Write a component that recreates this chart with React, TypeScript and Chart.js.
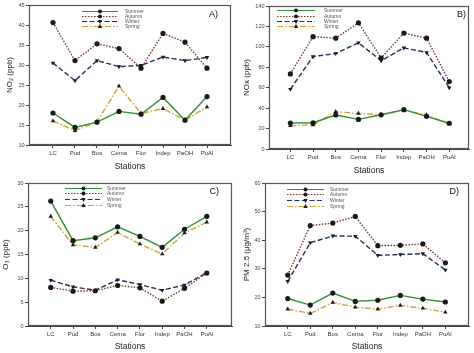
import React, { useEffect, useRef } from "react";
import { Chart, registerables } from "chart.js";
Chart.register(...registerables);

const stations = ["LC", "Pud", "Bos", "Cerna", "Flor", "Indep", "PaOH", "PuAl"];
const seasons = ["Summer", "Autumn", "Winter", "Spring"];

const no2Summer = [18.0, 14.4, 15.7, 18.4, 17.7, 21.9, 16.2, 22.1];
const no2Autumn = [40.6, 31.1, 35.3, 34.1, 29.2, 37.9, 35.7, 29.2];
const no2Winter = [30.5, 26.1, 31.1, 29.6, 29.9, 32.0, 31.1, 31.9];
const no2Spring = [16.0, 13.6, 15.8, 24.7, 17.9, 19.1, 16.2, 19.5];

const noxSummer = [25.4, 25.7, 33.3, 29.0, 33.5, 38.5, 32.0, 25.2];
const noxAutumn = [73.5, 110.0, 108.5, 123.5, 89.0, 113.5, 108.5, 66.0];
const noxWinter = [58.5, 90.5, 93.5, 104.0, 86.5, 99.0, 94.5, 60.0];
const noxSpring = [22.8, 23.5, 36.5, 34.8, 33.5, 38.0, 33.5, 24.5];

const o3Summer = [26.2, 17.9, 18.5, 20.8, 18.8, 16.5, 20.3, 23.0];
const o3Autumn = [8.1, 7.3, 7.4, 8.5, 8.0, 5.2, 7.9, 11.1];
const o3Winter = [9.6, 8.2, 7.5, 9.7, 8.7, 7.5, 8.6, 11.2];
const o3Spring = [23.0, 17.0, 16.5, 19.6, 17.2, 15.1, 19.5, 21.8];

const pmSummer = [19.6, 17.3, 21.5, 18.6, 19.0, 20.7, 19.4, 18.4];
const pmAutumn = [27.8, 45.1, 46.0, 48.3, 38.1, 38.2, 38.7, 32.1];
const pmWinter = [25.6, 39.1, 41.5, 41.4, 34.7, 35.0, 35.3, 29.6];
const pmSpring = [15.9, 14.4, 18.2, 16.6, 15.9, 17.2, 16.2, 14.8];

const FONT = "'Liberation Sans', Arial, Helvetica, sans-serif";

const seasonStyles = [
  { color: "#2f8f35", dash: [] as number[], point: "circle", rot: 0 },
  { color: "#7a3434", dash: [1.5, 1.5], point: "circle", rot: 0 },
  { color: "#2a2c62", dash: [5, 2.5], point: "triangle", rot: 180 },
  { color: "#cfa43c", dash: [6, 2, 1.5, 2], point: "triangle", rot: 0 },
];

type Panel = {
  left: number; top: number; w: number; h: number;
  area: { left: number; right: number; top: number; bottom: number };
  xMin: number; xMax: number;
  yMin: number; yMax: number; yStep: number;
  yTitle: string; label: string; labelX: number; labelY: number;
  yTitlePad: number; xTitlePad: number;
  legend: { x0: number; x1: number; tx: number; rows: number[] };
  series: number[][];
};

const panels: Panel[] = [
  {
    left: 0, top: 0, w: 237, h: 176,
    area: { left: 29, right: 231, top: 5, bottom: 145 },
    xMin: -1.09, xMax: 8.09, yMin: 10, yMax: 45, yStep: 5,
    yTitle: "NO\u2082 (ppb)", label: "A)", labelX: 218, labelY: 15,
    yTitlePad: 5, xTitlePad: 4.5,
    legend: { x0: 53, x1: 89, tx: 96, rows: [6, 11, 16, 21] },
    series: [no2Summer, no2Autumn, no2Winter, no2Spring],
  },
  {
    left: 237, top: 0, w: 237, h: 176,
    area: { left: 32, right: 232, top: 6, bottom: 149 },
    xMin: -0.94, xMax: 7.87, yMin: 0, yMax: 140, yStep: 20,
    yTitle: "NOx (ppb)", label: "B)", labelX: 229, labelY: 15,
    yTitlePad: 5, xTitlePad: 0.3,
    legend: { x0: 8, x1: 46, tx: 55, rows: [4, 10, 15, 20] },
    series: [noxSummer, noxAutumn, noxWinter, noxSpring],
  },
  {
    left: 0, top: 176, w: 237, h: 177,
    area: { left: 28, right: 232, top: 7, bottom: 150 },
    xMin: -1.02, xMax: 8.13, yMin: 0, yMax: 30, yStep: 5,
    yTitle: "O\u2083 (ppb)", label: "C)", labelX: 219, labelY: 16,
    yTitlePad: 1.2, xTitlePad: 1.2,
    legend: { x0: 37, x1: 74, tx: 79, rows: [5, 10, 16, 22] },
    series: [o3Summer, o3Autumn, o3Winter, o3Spring],
  },
  {
    left: 237, top: 176, w: 237, h: 177,
    area: { left: 28, right: 232, top: 7, bottom: 150 },
    xMin: -1.01, xMax: 8.05, yMin: 10, yMax: 60, yStep: 10,
    yTitle: "PM 2.5 (\u03bcg/m\u00b3)", label: "D)", labelX: 222, labelY: 16,
    yTitlePad: 5, xTitlePad: 1.2,
    legend: { x0: 22, x1: 59, tx: 65, rows: [6, 11, 17, 23] },
    series: [pmSummer, pmAutumn, pmWinter, pmSpring],
  },
];

function drawMarker(ctx: CanvasRenderingContext2D, kind: string, rot: number, x: number, y: number, r: number) {
  ctx.save();
  ctx.fillStyle = "#1a1a1a";
  ctx.beginPath();
  if (kind === "circle") {
    ctx.arc(x, y, r, 0, Math.PI * 2);
  } else {
    const s = rot === 180 ? -1 : 1;
    ctx.moveTo(x, y - s * r * 1.2);
    ctx.lineTo(x - r * 1.1, y + s * r * 0.8);
    ctx.lineTo(x + r * 1.1, y + s * r * 0.8);
    ctx.closePath();
  }
  ctx.fill();
  ctx.restore();
}

function makeChart(canvas: HTMLCanvasElement, p: Panel) {
  const boxPlugin = {
    id: "boxAndLegend",
    afterDraw(chart: any) {
      const ctx = chart.ctx as CanvasRenderingContext2D;
      const a = chart.chartArea;
      ctx.save();
      ctx.strokeStyle = "#555";
      ctx.lineWidth = 1.2;
      ctx.strokeRect(Math.round(a.left) + 0.5, Math.round(a.top) + 0.5, Math.round(a.right - a.left) - 1, Math.round(a.bottom - a.top) - 1);
      // legend
      ctx.font = `5px ${FONT}`;
      ctx.textBaseline = "middle";
      ctx.textAlign = "left";
      p.legend.rows.forEach((ry, i) => {
        const st = seasonStyles[i];
        const y = a.top + ry + 0.5;
        const x0 = a.left + p.legend.x0;
        const x1 = a.left + p.legend.x1;
        ctx.save();
        ctx.strokeStyle = st.color;
        ctx.lineWidth = 1.2;
        ctx.setLineDash(st.dash);
        ctx.beginPath();
        ctx.moveTo(x0, y);
        ctx.lineTo(x1, y);
        ctx.stroke();
        ctx.restore();
        drawMarker(ctx, st.point, st.rot, (x0 + x1) / 2, y, 2);
        ctx.fillStyle = "#555";
        ctx.fillText(seasons[i], a.left + p.legend.tx, y);
      });
      ctx.font = `9px ${FONT}`;
      ctx.fillStyle = "#111";
      ctx.textAlign = "right";
      ctx.fillText(p.label, p.labelX, p.labelY);
      ctx.restore();
    },
  };

  const datasets = p.series.map((vals, i) => {
    const st = seasonStyles[i];
    return {
      label: seasons[i],
      data: vals.map((v, j) => ({ x: j, y: v })),
      borderColor: st.color,
      borderWidth: 1.4,
      borderDash: st.dash,
      backgroundColor: "#1a1a1a",
      pointBackgroundColor: "#1a1a1a",
      pointBorderColor: "#1a1a1a",
      pointBorderWidth: 0,
      pointRadius: 2.6,
      pointStyle: st.point,
      pointRotation: st.rot,
      tension: 0,
      fill: false,
    };
  });

  return new Chart(canvas, {
    type: "line",
    data: { datasets },
    plugins: [boxPlugin],
    options: {
      animation: false,
      responsive: false,
      maintainAspectRatio: false,
      layout: {
        padding: { left: 0, top: p.area.top, right: p.w - p.area.right, bottom: 0 },
      },
      plugins: { legend: { display: false }, tooltip: { enabled: false } },
      scales: {
        x: {
          type: "linear",
          min: p.xMin,
          max: p.xMax,
          afterFit: (s: any) => { s.height = p.h - p.area.bottom; },
          afterBuildTicks: (s: any) => { s.ticks = stations.map((_, i) => ({ value: i })); },
          ticks: {
            autoSkip: false,
            maxRotation: 0,
            padding: 2,
            color: "#333",
            font: { family: FONT, size: 6 },
            callback: (v: any) => stations[v] ?? "",
          },
          grid: { drawOnChartArea: false, drawTicks: true, tickLength: 3, color: "#444", lineWidth: 1 },
          border: { display: true, color: "#444", width: 1 },
          title: {
            display: true,
            text: "Stations",
            color: "#222",
            font: { family: FONT, size: 8.5 },
            padding: { top: 0, bottom: p.xTitlePad },
          },
        },
        y: {
          type: "linear",
          min: p.yMin,
          max: p.yMax,
          afterFit: (s: any) => { s.width = p.area.left; },
          ticks: {
            stepSize: p.yStep,
            padding: 1.5,
            color: "#444",
            font: { family: FONT, size: 5.5 },
          },
          grid: { drawOnChartArea: false, drawTicks: true, tickLength: 3, color: "#444", lineWidth: 1 },
          border: { display: true, color: "#444", width: 1 },
          title: {
            display: true,
            text: p.yTitle,
            color: "#222",
            font: { family: FONT, size: 8 },
            padding: { top: p.yTitlePad, bottom: 0 },
          },
        },
      },
    } as any,
  });
}

function PanelChart({ p }: { p: Panel }) {
  const ref = useRef<HTMLCanvasElement | null>(null);
  useEffect(() => {
    if (!ref.current) return;
    const c = makeChart(ref.current, p);
    return () => c.destroy();
  }, [p]);
  return (
    <canvas
      ref={ref}
      width={p.w}
      height={p.h}
      style={{ position: "absolute", left: p.left, top: p.top, width: p.w, height: p.h }}
    />
  );
}

export default function App() {
  return (
    <div style={{ position: "fixed", left: 0, top: 0, width: 474, height: 353, background: "#fff" }}>
      {panels.map((p, i) => (
        <PanelChart key={i} p={p} />
      ))}
    </div>
  );
}
